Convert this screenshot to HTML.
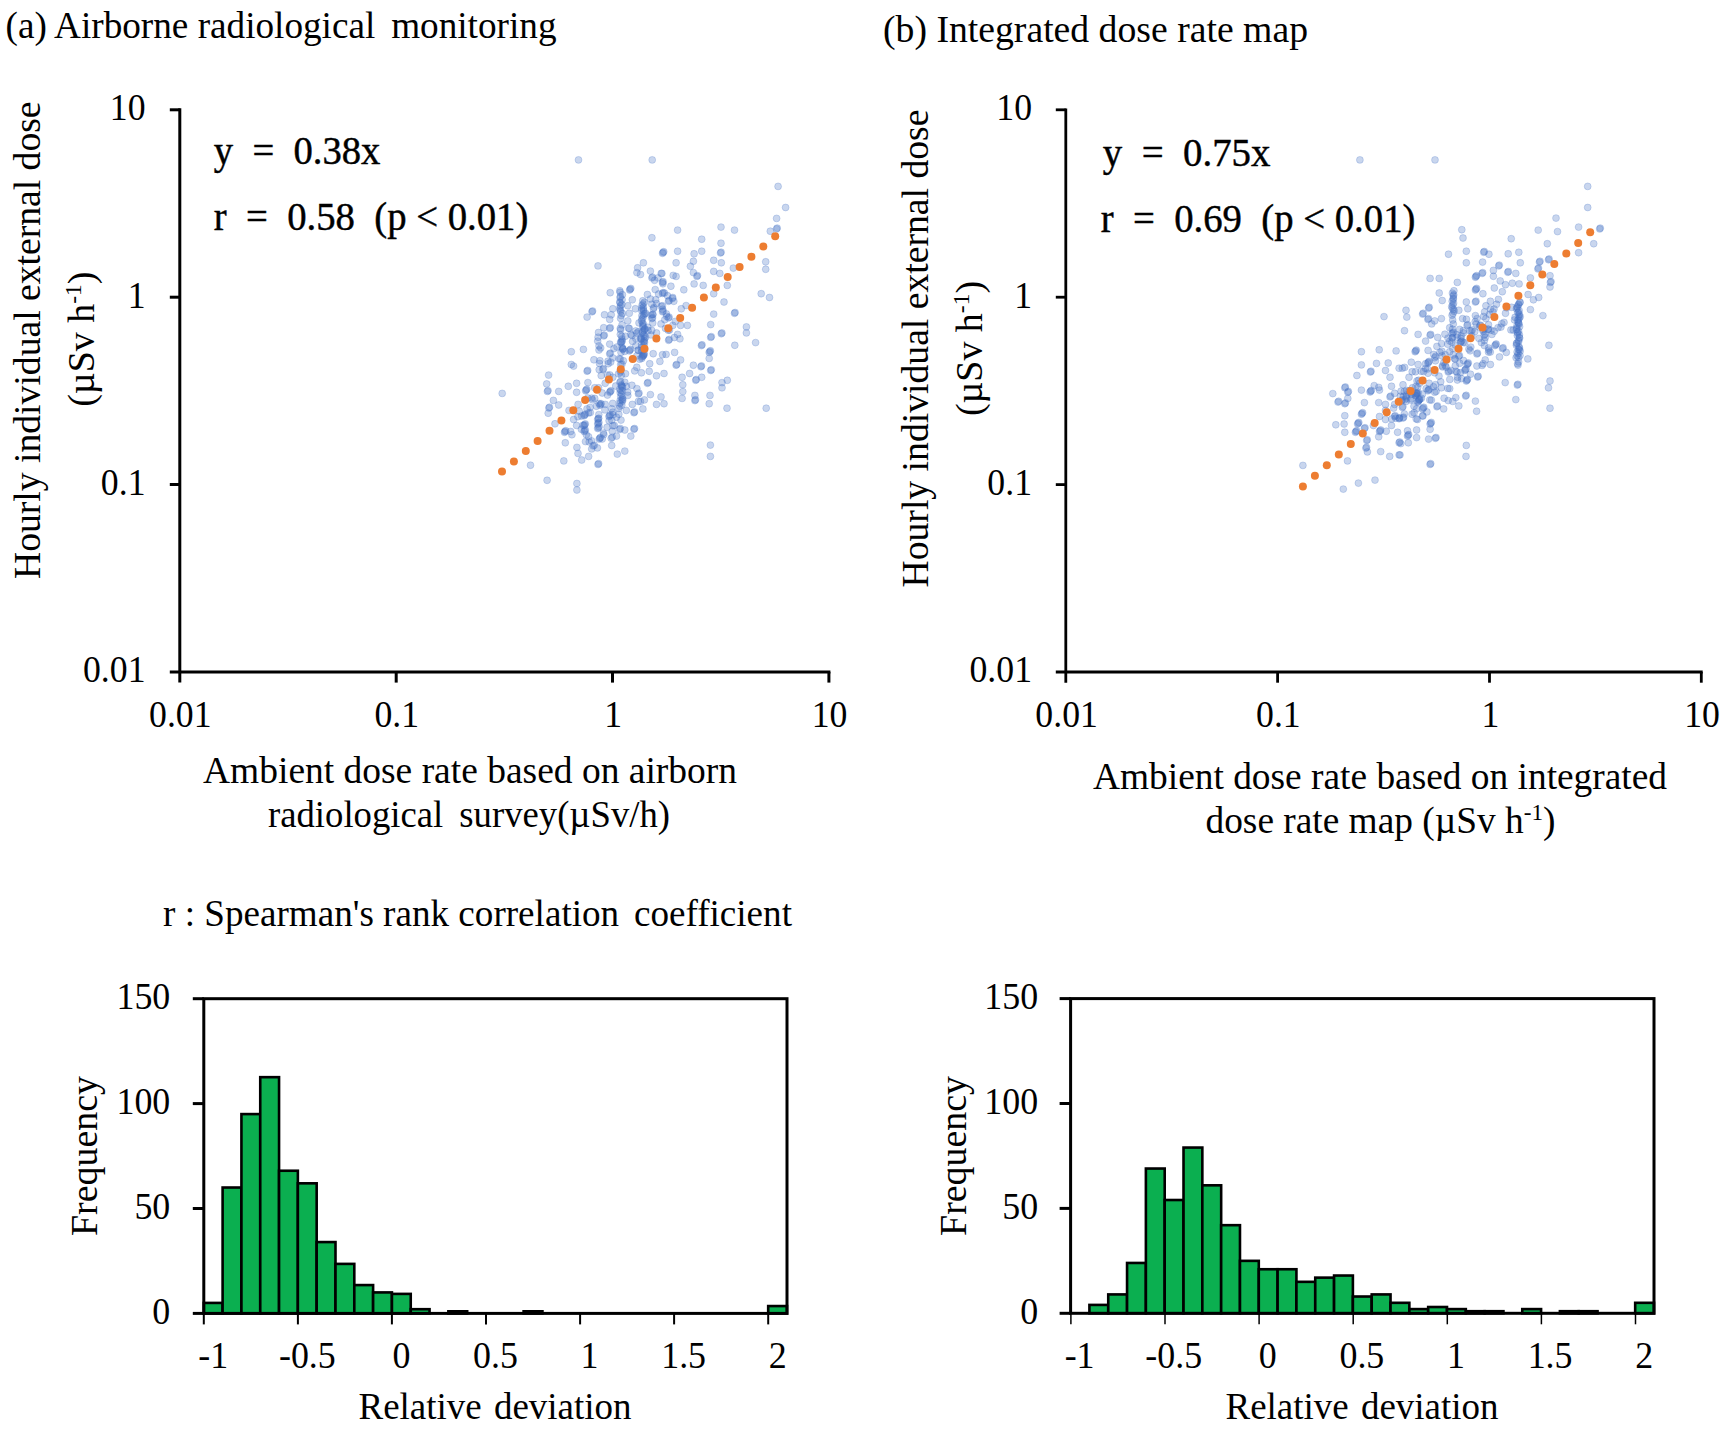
<!DOCTYPE html>
<html lang="en"><head><meta charset="utf-8"><title>Figure</title>
<style>html,body{margin:0;padding:0;background:#fff}svg{display:block}</style></head>
<body>
<svg width="1725" height="1440" viewBox="0 0 1725 1440" font-family='"Liberation Serif", serif' fill="#000">
<rect width="1725" height="1440" fill="#fff"/>
<text x="5.5" y="37.5" font-size="37" text-anchor="start" textLength="551" lengthAdjust="spacingAndGlyphs">(a) Airborne radiological <tspan dx="6.5">monitoring</tspan></text>
<text x="883" y="41.5" font-size="37" text-anchor="start" textLength="425" lengthAdjust="spacingAndGlyphs">(b) Integrated dose rate map</text>
<g fill="#4472C4" fill-opacity="0.29" stroke="#4472C4" stroke-opacity="0.24" stroke-width="1.0">
<circle cx="578.5" cy="159.9" r="3.45"/>
<circle cx="652.2" cy="159.9" r="3.45"/>
<circle cx="778.1" cy="186.4" r="3.45"/>
<circle cx="785.6" cy="207.5" r="3.45"/>
<circle cx="776.6" cy="218.4" r="3.45"/>
<circle cx="776.6" cy="228.9" r="3.45"/>
<circle cx="777.2" cy="228.1" r="3.45"/>
<circle cx="770.3" cy="231.2" r="3.45"/>
<circle cx="721.0" cy="227.1" r="3.45"/>
<circle cx="734.5" cy="230.1" r="3.45"/>
<circle cx="677.6" cy="230.1" r="3.45"/>
<circle cx="651.9" cy="237.7" r="3.45"/>
<circle cx="701.7" cy="239.2" r="3.45"/>
<circle cx="721.0" cy="243.2" r="3.45"/>
<circle cx="662.5" cy="253.3" r="3.45"/>
<circle cx="663.1" cy="252.5" r="3.45"/>
<circle cx="663.7" cy="251.7" r="3.45"/>
<circle cx="677.6" cy="251.2" r="3.45"/>
<circle cx="701.7" cy="251.2" r="3.45"/>
<circle cx="694.1" cy="253.8" r="3.45"/>
<circle cx="720.5" cy="253.0" r="3.45"/>
<circle cx="721.1" cy="252.2" r="3.45"/>
<circle cx="713.7" cy="260.3" r="3.45"/>
<circle cx="721.3" cy="262.8" r="3.45"/>
<circle cx="693.4" cy="261.3" r="3.45"/>
<circle cx="676.1" cy="262.8" r="3.45"/>
<circle cx="690.4" cy="266.3" r="3.45"/>
<circle cx="643.4" cy="262.8" r="3.45"/>
<circle cx="637.6" cy="267.8" r="3.45"/>
<circle cx="598.0" cy="265.9" r="3.45"/>
<circle cx="765.7" cy="261.8" r="3.45"/>
<circle cx="765.7" cy="269.3" r="3.45"/>
<circle cx="713.7" cy="271.4" r="3.45"/>
<circle cx="719.8" cy="273.4" r="3.45"/>
<circle cx="650.4" cy="271.1" r="3.45"/>
<circle cx="636.9" cy="272.6" r="3.45"/>
<circle cx="693.4" cy="272.6" r="3.45"/>
<circle cx="696.9" cy="276.4" r="3.45"/>
<circle cx="697.5" cy="275.6" r="3.45"/>
<circle cx="676.1" cy="276.4" r="3.45"/>
<circle cx="651.9" cy="277.9" r="3.45"/>
<circle cx="652.5" cy="277.1" r="3.45"/>
<circle cx="658.0" cy="277.9" r="3.45"/>
<circle cx="662.5" cy="282.4" r="3.45"/>
<circle cx="663.1" cy="281.6" r="3.45"/>
<circle cx="694.1" cy="283.9" r="3.45"/>
<circle cx="703.2" cy="285.4" r="3.45"/>
<circle cx="727.3" cy="285.4" r="3.45"/>
<circle cx="733.3" cy="268.1" r="3.45"/>
<circle cx="629.6" cy="290.0" r="3.45"/>
<circle cx="630.2" cy="289.2" r="3.45"/>
<circle cx="630.8" cy="288.4" r="3.45"/>
<circle cx="610.2" cy="292.7" r="3.45"/>
<circle cx="647.4" cy="294.5" r="3.45"/>
<circle cx="662.5" cy="293.4" r="3.45"/>
<circle cx="663.1" cy="292.6" r="3.45"/>
<circle cx="713.7" cy="293.7" r="3.45"/>
<circle cx="761.2" cy="293.7" r="3.45"/>
<circle cx="769.5" cy="297.5" r="3.45"/>
<circle cx="724.0" cy="302.0" r="3.45"/>
<circle cx="650.4" cy="299.0" r="3.45"/>
<circle cx="668.5" cy="301.3" r="3.45"/>
<circle cx="669.1" cy="300.5" r="3.45"/>
<circle cx="673.8" cy="301.3" r="3.45"/>
<circle cx="656.5" cy="303.5" r="3.45"/>
<circle cx="662.5" cy="305.8" r="3.45"/>
<circle cx="681.3" cy="308.8" r="3.45"/>
<circle cx="713.7" cy="314.1" r="3.45"/>
<circle cx="734.5" cy="313.3" r="3.45"/>
<circle cx="735.1" cy="312.5" r="3.45"/>
<circle cx="592.0" cy="311.8" r="3.45"/>
<circle cx="592.6" cy="311.0" r="3.45"/>
<circle cx="587.1" cy="317.1" r="3.45"/>
<circle cx="604.5" cy="314.8" r="3.45"/>
<circle cx="609.7" cy="319.4" r="3.45"/>
<circle cx="662.5" cy="311.8" r="3.45"/>
<circle cx="663.1" cy="311.0" r="3.45"/>
<circle cx="651.9" cy="318.6" r="3.45"/>
<circle cx="652.5" cy="317.8" r="3.45"/>
<circle cx="668.5" cy="317.9" r="3.45"/>
<circle cx="669.1" cy="317.1" r="3.45"/>
<circle cx="710.7" cy="324.6" r="3.45"/>
<circle cx="746.4" cy="326.9" r="3.45"/>
<circle cx="746.4" cy="332.9" r="3.45"/>
<circle cx="680.6" cy="325.4" r="3.45"/>
<circle cx="687.4" cy="325.4" r="3.45"/>
<circle cx="661.0" cy="323.9" r="3.45"/>
<circle cx="677.6" cy="334.4" r="3.45"/>
<circle cx="721.3" cy="333.7" r="3.45"/>
<circle cx="721.9" cy="332.9" r="3.45"/>
<circle cx="710.7" cy="337.4" r="3.45"/>
<circle cx="711.3" cy="336.6" r="3.45"/>
<circle cx="603.7" cy="327.7" r="3.45"/>
<circle cx="609.7" cy="328.4" r="3.45"/>
<circle cx="610.3" cy="327.6" r="3.45"/>
<circle cx="603.7" cy="335.9" r="3.45"/>
<circle cx="604.3" cy="335.1" r="3.45"/>
<circle cx="620.3" cy="328.4" r="3.45"/>
<circle cx="620.3" cy="334.4" r="3.45"/>
<circle cx="629.3" cy="328.4" r="3.45"/>
<circle cx="627.8" cy="305.8" r="3.45"/>
<circle cx="629.3" cy="313.3" r="3.45"/>
<circle cx="627.8" cy="320.9" r="3.45"/>
<circle cx="632.3" cy="299.8" r="3.45"/>
<circle cx="635.4" cy="308.8" r="3.45"/>
<circle cx="630.8" cy="334.4" r="3.45"/>
<circle cx="612.8" cy="308.8" r="3.45"/>
<circle cx="611.2" cy="314.8" r="3.45"/>
<circle cx="653.4" cy="308.8" r="3.45"/>
<circle cx="665.5" cy="328.4" r="3.45"/>
<circle cx="656.5" cy="332.9" r="3.45"/>
<circle cx="734.8" cy="345.3" r="3.45"/>
<circle cx="755.6" cy="342.6" r="3.45"/>
<circle cx="701.4" cy="345.6" r="3.45"/>
<circle cx="702.0" cy="344.8" r="3.45"/>
<circle cx="709.2" cy="352.4" r="3.45"/>
<circle cx="709.8" cy="351.6" r="3.45"/>
<circle cx="710.4" cy="350.8" r="3.45"/>
<circle cx="709.2" cy="358.4" r="3.45"/>
<circle cx="662.5" cy="354.7" r="3.45"/>
<circle cx="674.6" cy="352.4" r="3.45"/>
<circle cx="680.6" cy="359.9" r="3.45"/>
<circle cx="676.1" cy="365.2" r="3.45"/>
<circle cx="676.7" cy="364.4" r="3.45"/>
<circle cx="693.4" cy="365.2" r="3.45"/>
<circle cx="700.9" cy="366.7" r="3.45"/>
<circle cx="701.5" cy="365.9" r="3.45"/>
<circle cx="710.7" cy="370.5" r="3.45"/>
<circle cx="711.3" cy="369.7" r="3.45"/>
<circle cx="689.6" cy="373.5" r="3.45"/>
<circle cx="701.7" cy="377.3" r="3.45"/>
<circle cx="695.7" cy="380.3" r="3.45"/>
<circle cx="696.3" cy="379.5" r="3.45"/>
<circle cx="682.1" cy="377.3" r="3.45"/>
<circle cx="682.8" cy="384.8" r="3.45"/>
<circle cx="682.8" cy="391.6" r="3.45"/>
<circle cx="682.1" cy="398.4" r="3.45"/>
<circle cx="722.0" cy="382.6" r="3.45"/>
<circle cx="727.3" cy="380.3" r="3.45"/>
<circle cx="722.0" cy="387.8" r="3.45"/>
<circle cx="694.9" cy="395.4" r="3.45"/>
<circle cx="694.9" cy="400.6" r="3.45"/>
<circle cx="695.5" cy="399.8" r="3.45"/>
<circle cx="710.0" cy="395.4" r="3.45"/>
<circle cx="709.2" cy="403.7" r="3.45"/>
<circle cx="727.0" cy="408.2" r="3.45"/>
<circle cx="766.2" cy="408.2" r="3.45"/>
<circle cx="664.0" cy="373.5" r="3.45"/>
<circle cx="656.5" cy="375.8" r="3.45"/>
<circle cx="647.4" cy="383.3" r="3.45"/>
<circle cx="648.0" cy="382.5" r="3.45"/>
<circle cx="641.4" cy="372.8" r="3.45"/>
<circle cx="636.9" cy="388.6" r="3.45"/>
<circle cx="638.4" cy="393.9" r="3.45"/>
<circle cx="639.0" cy="393.1" r="3.45"/>
<circle cx="644.4" cy="399.9" r="3.45"/>
<circle cx="650.4" cy="394.6" r="3.45"/>
<circle cx="661.0" cy="396.9" r="3.45"/>
<circle cx="664.0" cy="403.7" r="3.45"/>
<circle cx="656.5" cy="404.4" r="3.45"/>
<circle cx="642.9" cy="408.9" r="3.45"/>
<circle cx="633.9" cy="412.7" r="3.45"/>
<circle cx="634.5" cy="411.9" r="3.45"/>
<circle cx="710.4" cy="445.1" r="3.45"/>
<circle cx="710.4" cy="456.4" r="3.45"/>
<circle cx="571.3" cy="351.7" r="3.45"/>
<circle cx="583.4" cy="349.4" r="3.45"/>
<circle cx="571.3" cy="364.5" r="3.45"/>
<circle cx="600.7" cy="347.9" r="3.45"/>
<circle cx="609.7" cy="344.1" r="3.45"/>
<circle cx="609.7" cy="353.9" r="3.45"/>
<circle cx="610.3" cy="353.1" r="3.45"/>
<circle cx="621.0" cy="342.6" r="3.45"/>
<circle cx="621.6" cy="341.8" r="3.45"/>
<circle cx="622.2" cy="341.0" r="3.45"/>
<circle cx="629.3" cy="350.9" r="3.45"/>
<circle cx="629.9" cy="350.1" r="3.45"/>
<circle cx="630.5" cy="349.3" r="3.45"/>
<circle cx="599.9" cy="360.7" r="3.45"/>
<circle cx="587.1" cy="371.2" r="3.45"/>
<circle cx="587.7" cy="370.4" r="3.45"/>
<circle cx="599.2" cy="369.7" r="3.45"/>
<circle cx="608.2" cy="363.7" r="3.45"/>
<circle cx="642.9" cy="356.2" r="3.45"/>
<circle cx="643.5" cy="355.4" r="3.45"/>
<circle cx="644.1" cy="354.6" r="3.45"/>
<circle cx="649.7" cy="363.7" r="3.45"/>
<circle cx="568.3" cy="386.3" r="3.45"/>
<circle cx="576.6" cy="383.3" r="3.45"/>
<circle cx="587.9" cy="382.6" r="3.45"/>
<circle cx="585.6" cy="390.8" r="3.45"/>
<circle cx="586.2" cy="390.0" r="3.45"/>
<circle cx="586.8" cy="389.2" r="3.45"/>
<circle cx="576.6" cy="392.3" r="3.45"/>
<circle cx="609.7" cy="392.3" r="3.45"/>
<circle cx="610.3" cy="391.5" r="3.45"/>
<circle cx="610.9" cy="390.7" r="3.45"/>
<circle cx="626.3" cy="386.3" r="3.45"/>
<circle cx="627.8" cy="395.4" r="3.45"/>
<circle cx="599.9" cy="405.2" r="3.45"/>
<circle cx="600.5" cy="404.4" r="3.45"/>
<circle cx="601.1" cy="403.6" r="3.45"/>
<circle cx="594.7" cy="398.4" r="3.45"/>
<circle cx="584.1" cy="415.7" r="3.45"/>
<circle cx="584.7" cy="414.9" r="3.45"/>
<circle cx="585.3" cy="414.1" r="3.45"/>
<circle cx="609.0" cy="416.5" r="3.45"/>
<circle cx="609.6" cy="415.7" r="3.45"/>
<circle cx="610.2" cy="414.9" r="3.45"/>
<circle cx="618.8" cy="414.2" r="3.45"/>
<circle cx="626.3" cy="410.4" r="3.45"/>
<circle cx="597.7" cy="419.5" r="3.45"/>
<circle cx="598.3" cy="418.7" r="3.45"/>
<circle cx="597.7" cy="424.0" r="3.45"/>
<circle cx="598.3" cy="423.2" r="3.45"/>
<circle cx="598.9" cy="422.4" r="3.45"/>
<circle cx="597.7" cy="428.5" r="3.45"/>
<circle cx="598.3" cy="427.7" r="3.45"/>
<circle cx="584.1" cy="425.5" r="3.45"/>
<circle cx="584.7" cy="424.7" r="3.45"/>
<circle cx="585.3" cy="423.9" r="3.45"/>
<circle cx="584.1" cy="431.5" r="3.45"/>
<circle cx="584.7" cy="430.7" r="3.45"/>
<circle cx="585.3" cy="429.9" r="3.45"/>
<circle cx="564.5" cy="432.3" r="3.45"/>
<circle cx="565.1" cy="431.5" r="3.45"/>
<circle cx="565.7" cy="430.7" r="3.45"/>
<circle cx="570.6" cy="431.5" r="3.45"/>
<circle cx="576.6" cy="425.5" r="3.45"/>
<circle cx="599.2" cy="439.1" r="3.45"/>
<circle cx="599.8" cy="438.3" r="3.45"/>
<circle cx="600.4" cy="437.5" r="3.45"/>
<circle cx="616.5" cy="436.1" r="3.45"/>
<circle cx="611.2" cy="438.3" r="3.45"/>
<circle cx="620.3" cy="428.5" r="3.45"/>
<circle cx="624.8" cy="430.0" r="3.45"/>
<circle cx="633.9" cy="429.3" r="3.45"/>
<circle cx="634.5" cy="428.5" r="3.45"/>
<circle cx="630.8" cy="436.1" r="3.45"/>
<circle cx="588.6" cy="436.8" r="3.45"/>
<circle cx="565.3" cy="442.8" r="3.45"/>
<circle cx="576.9" cy="447.4" r="3.45"/>
<circle cx="591.7" cy="448.9" r="3.45"/>
<circle cx="588.6" cy="456.4" r="3.45"/>
<circle cx="617.3" cy="454.1" r="3.45"/>
<circle cx="624.8" cy="451.1" r="3.45"/>
<circle cx="563.8" cy="460.9" r="3.45"/>
<circle cx="598.0" cy="464.4" r="3.45"/>
<circle cx="598.6" cy="463.6" r="3.45"/>
<circle cx="576.9" cy="483.5" r="3.45"/>
<circle cx="576.9" cy="490.0" r="3.45"/>
<circle cx="605.2" cy="383.3" r="3.45"/>
<circle cx="612.8" cy="377.3" r="3.45"/>
<circle cx="594.7" cy="387.8" r="3.45"/>
<circle cx="632.3" cy="404.4" r="3.45"/>
<circle cx="638.4" cy="401.4" r="3.45"/>
<circle cx="614.3" cy="425.5" r="3.45"/>
<circle cx="605.2" cy="404.4" r="3.45"/>
<circle cx="590.1" cy="407.4" r="3.45"/>
<circle cx="578.1" cy="404.4" r="3.45"/>
<circle cx="569.0" cy="410.4" r="3.45"/>
<circle cx="573.6" cy="419.5" r="3.45"/>
<circle cx="502.2" cy="393.4" r="3.45"/>
<circle cx="548.6" cy="375.1" r="3.45"/>
<circle cx="546.7" cy="383.9" r="3.45"/>
<circle cx="547.4" cy="391.4" r="3.45"/>
<circle cx="548.0" cy="390.6" r="3.45"/>
<circle cx="558.7" cy="391.4" r="3.45"/>
<circle cx="553.4" cy="400.4" r="3.45"/>
<circle cx="548.9" cy="408.0" r="3.45"/>
<circle cx="549.5" cy="407.2" r="3.45"/>
<circle cx="548.2" cy="413.2" r="3.45"/>
<circle cx="558.7" cy="405.0" r="3.45"/>
<circle cx="530.5" cy="465.2" r="3.45"/>
<circle cx="547.1" cy="480.3" r="3.45"/>
<circle cx="555.0" cy="423.8" r="3.45"/>
<circle cx="642.8" cy="300.8" r="3.45"/>
<circle cx="644.4" cy="302.3" r="3.45"/>
<circle cx="643.0" cy="304.0" r="3.45"/>
<circle cx="642.0" cy="305.4" r="3.45"/>
<circle cx="643.4" cy="307.3" r="3.45"/>
<circle cx="641.7" cy="308.3" r="3.45"/>
<circle cx="641.7" cy="310.5" r="3.45"/>
<circle cx="643.6" cy="311.1" r="3.45"/>
<circle cx="644.5" cy="313.8" r="3.45"/>
<circle cx="643.5" cy="314.9" r="3.45"/>
<circle cx="641.9" cy="315.7" r="3.45"/>
<circle cx="643.1" cy="317.3" r="3.45"/>
<circle cx="642.0" cy="319.1" r="3.45"/>
<circle cx="641.5" cy="320.9" r="3.45"/>
<circle cx="642.8" cy="322.9" r="3.45"/>
<circle cx="643.1" cy="324.2" r="3.45"/>
<circle cx="643.0" cy="325.8" r="3.45"/>
<circle cx="642.9" cy="326.9" r="3.45"/>
<circle cx="644.6" cy="329.3" r="3.45"/>
<circle cx="644.1" cy="330.5" r="3.45"/>
<circle cx="642.4" cy="331.5" r="3.45"/>
<circle cx="642.3" cy="332.9" r="3.45"/>
<circle cx="643.9" cy="334.8" r="3.45"/>
<circle cx="644.1" cy="336.4" r="3.45"/>
<circle cx="644.5" cy="338.5" r="3.45"/>
<circle cx="641.4" cy="339.2" r="3.45"/>
<circle cx="644.3" cy="341.1" r="3.45"/>
<circle cx="644.5" cy="342.6" r="3.45"/>
<circle cx="641.6" cy="344.4" r="3.45"/>
<circle cx="643.9" cy="345.5" r="3.45"/>
<circle cx="641.7" cy="347.2" r="3.45"/>
<circle cx="644.5" cy="349.2" r="3.45"/>
<circle cx="641.8" cy="350.2" r="3.45"/>
<circle cx="641.7" cy="351.5" r="3.45"/>
<circle cx="644.0" cy="353.2" r="3.45"/>
<circle cx="643.2" cy="355.1" r="3.45"/>
<circle cx="642.0" cy="356.9" r="3.45"/>
<circle cx="641.8" cy="358.4" r="3.45"/>
<circle cx="619.8" cy="290.8" r="3.45"/>
<circle cx="620.1" cy="292.3" r="3.45"/>
<circle cx="622.4" cy="294.7" r="3.45"/>
<circle cx="620.4" cy="296.5" r="3.45"/>
<circle cx="620.1" cy="297.7" r="3.45"/>
<circle cx="622.1" cy="299.7" r="3.45"/>
<circle cx="619.8" cy="301.9" r="3.45"/>
<circle cx="620.1" cy="302.7" r="3.45"/>
<circle cx="621.8" cy="304.5" r="3.45"/>
<circle cx="620.4" cy="306.0" r="3.45"/>
<circle cx="619.8" cy="308.3" r="3.45"/>
<circle cx="620.2" cy="310.1" r="3.45"/>
<circle cx="620.6" cy="311.6" r="3.45"/>
<circle cx="622.4" cy="313.4" r="3.45"/>
<circle cx="621.2" cy="315.6" r="3.45"/>
<circle cx="620.6" cy="318.4" r="3.45"/>
<circle cx="622.0" cy="324.9" r="3.45"/>
<circle cx="620.7" cy="329.8" r="3.45"/>
<circle cx="621.7" cy="336.4" r="3.45"/>
<circle cx="620.6" cy="342.0" r="3.45"/>
<circle cx="622.0" cy="347.3" r="3.45"/>
<circle cx="621.0" cy="352.4" r="3.45"/>
<circle cx="620.3" cy="359.1" r="3.45"/>
<circle cx="620.7" cy="364.4" r="3.45"/>
<circle cx="620.7" cy="370.2" r="3.45"/>
<circle cx="621.4" cy="375.3" r="3.45"/>
<circle cx="620.6" cy="381.4" r="3.45"/>
<circle cx="619.9" cy="382.5" r="3.45"/>
<circle cx="621.4" cy="384.9" r="3.45"/>
<circle cx="621.5" cy="385.9" r="3.45"/>
<circle cx="622.5" cy="387.5" r="3.45"/>
<circle cx="619.7" cy="389.2" r="3.45"/>
<circle cx="621.0" cy="390.6" r="3.45"/>
<circle cx="620.2" cy="392.7" r="3.45"/>
<circle cx="621.4" cy="394.1" r="3.45"/>
<circle cx="620.8" cy="396.6" r="3.45"/>
<circle cx="622.6" cy="398.0" r="3.45"/>
<circle cx="621.8" cy="399.6" r="3.45"/>
<circle cx="620.1" cy="400.6" r="3.45"/>
<circle cx="619.8" cy="403.3" r="3.45"/>
<circle cx="621.8" cy="405.1" r="3.45"/>
<circle cx="619.8" cy="406.3" r="3.45"/>
<circle cx="598.5" cy="332.5" r="3.45"/>
<circle cx="598.1" cy="337.2" r="3.45"/>
<circle cx="597.7" cy="341.1" r="3.45"/>
<circle cx="599.0" cy="345.9" r="3.45"/>
<circle cx="599.0" cy="350.0" r="3.45"/>
<circle cx="612.7" cy="403.4" r="3.45"/>
<circle cx="611.6" cy="408.8" r="3.45"/>
<circle cx="613.0" cy="414.7" r="3.45"/>
<circle cx="611.8" cy="420.3" r="3.45"/>
<circle cx="612.9" cy="425.8" r="3.45"/>
<circle cx="612.3" cy="431.3" r="3.45"/>
<circle cx="612.2" cy="437.3" r="3.45"/>
<circle cx="573.6" cy="366.1" r="3.45"/>
<circle cx="658.6" cy="294.0" r="3.45"/>
<circle cx="639.0" cy="322.9" r="3.45"/>
<circle cx="669.2" cy="339.4" r="3.45"/>
<circle cx="579.2" cy="411.2" r="3.45"/>
<circle cx="601.2" cy="375.6" r="3.45"/>
<circle cx="643.3" cy="342.0" r="3.45"/>
<circle cx="581.7" cy="460.0" r="3.45"/>
<circle cx="611.7" cy="445.5" r="3.45"/>
<circle cx="623.4" cy="360.8" r="3.45"/>
<circle cx="609.8" cy="374.9" r="3.45"/>
<circle cx="628.5" cy="328.2" r="3.45"/>
<circle cx="650.9" cy="334.9" r="3.45"/>
<circle cx="618.8" cy="408.3" r="3.45"/>
<circle cx="664.4" cy="293.0" r="3.45"/>
<circle cx="664.8" cy="319.7" r="3.45"/>
<circle cx="622.3" cy="386.5" r="3.45"/>
<circle cx="612.8" cy="357.9" r="3.45"/>
<circle cx="625.4" cy="336.2" r="3.45"/>
<circle cx="625.5" cy="373.7" r="3.45"/>
<circle cx="672.8" cy="325.4" r="3.45"/>
<circle cx="627.7" cy="392.1" r="3.45"/>
<circle cx="593.1" cy="445.8" r="3.45"/>
<circle cx="590.3" cy="412.6" r="3.45"/>
<circle cx="609.1" cy="420.7" r="3.45"/>
<circle cx="614.0" cy="348.6" r="3.45"/>
<circle cx="666.8" cy="316.4" r="3.45"/>
<circle cx="596.4" cy="406.2" r="3.45"/>
<circle cx="571.9" cy="434.7" r="3.45"/>
<circle cx="599.1" cy="426.8" r="3.45"/>
<circle cx="631.9" cy="335.5" r="3.45"/>
<circle cx="636.8" cy="355.9" r="3.45"/>
<circle cx="679.9" cy="338.8" r="3.45"/>
<circle cx="653.2" cy="353.7" r="3.45"/>
<circle cx="645.6" cy="337.2" r="3.45"/>
<circle cx="645.0" cy="329.0" r="3.45"/>
<circle cx="652.5" cy="314.5" r="3.45"/>
<circle cx="599.5" cy="363.4" r="3.45"/>
<circle cx="638.3" cy="331.7" r="3.45"/>
<circle cx="686.1" cy="305.6" r="3.45"/>
<circle cx="632.6" cy="341.5" r="3.45"/>
<circle cx="667.5" cy="295.7" r="3.45"/>
<circle cx="581.4" cy="429.3" r="3.45"/>
<circle cx="648.1" cy="330.5" r="3.45"/>
<circle cx="668.6" cy="340.3" r="3.45"/>
<circle cx="591.6" cy="440.9" r="3.45"/>
<circle cx="603.4" cy="433.1" r="3.45"/>
<circle cx="653.9" cy="307.5" r="3.45"/>
<circle cx="643.4" cy="309.6" r="3.45"/>
<circle cx="594.3" cy="445.3" r="3.45"/>
<circle cx="608.0" cy="361.2" r="3.45"/>
<circle cx="635.8" cy="338.6" r="3.45"/>
<circle cx="598.7" cy="418.3" r="3.45"/>
<circle cx="666.1" cy="354.4" r="3.45"/>
<circle cx="655.7" cy="299.8" r="3.45"/>
<circle cx="591.7" cy="398.1" r="3.45"/>
<circle cx="659.9" cy="361.4" r="3.45"/>
<circle cx="615.7" cy="386.0" r="3.45"/>
<circle cx="619.1" cy="358.7" r="3.45"/>
<circle cx="581.6" cy="416.0" r="3.45"/>
<circle cx="672.7" cy="297.5" r="3.45"/>
<circle cx="631.9" cy="385.3" r="3.45"/>
<circle cx="662.6" cy="309.3" r="3.45"/>
<circle cx="616.5" cy="417.2" r="3.45"/>
<circle cx="674.4" cy="337.5" r="3.45"/>
<circle cx="589.2" cy="441.9" r="3.45"/>
<circle cx="639.7" cy="359.2" r="3.45"/>
<circle cx="649.2" cy="371.3" r="3.45"/>
<circle cx="588.6" cy="412.9" r="3.45"/>
<circle cx="592.3" cy="399.8" r="3.45"/>
<circle cx="607.5" cy="395.1" r="3.45"/>
<circle cx="602.2" cy="439.0" r="3.45"/>
<circle cx="622.0" cy="339.1" r="3.45"/>
<circle cx="641.1" cy="337.9" r="3.45"/>
<circle cx="655.2" cy="289.6" r="3.45"/>
<circle cx="603.8" cy="434.6" r="3.45"/>
<circle cx="622.4" cy="401.2" r="3.45"/>
<circle cx="597.4" cy="447.9" r="3.45"/>
<circle cx="621.0" cy="420.1" r="3.45"/>
<circle cx="622.0" cy="364.1" r="3.45"/>
<circle cx="618.6" cy="373.8" r="3.45"/>
<circle cx="593.9" cy="359.8" r="3.45"/>
<circle cx="675.3" cy="321.4" r="3.45"/>
<circle cx="635.8" cy="330.9" r="3.45"/>
<circle cx="604.9" cy="409.9" r="3.45"/>
<circle cx="577.9" cy="416.7" r="3.45"/>
<circle cx="636.8" cy="367.3" r="3.45"/>
<circle cx="617.0" cy="347.0" r="3.45"/>
<circle cx="666.4" cy="313.9" r="3.45"/>
<circle cx="651.0" cy="315.1" r="3.45"/>
<circle cx="602.2" cy="393.0" r="3.45"/>
<circle cx="620.4" cy="372.0" r="3.45"/>
<circle cx="647.8" cy="327.3" r="3.45"/>
<circle cx="623.0" cy="348.6" r="3.45"/>
<circle cx="607.1" cy="427.3" r="3.45"/>
<circle cx="599.0" cy="403.4" r="3.45"/>
<circle cx="653.0" cy="314.6" r="3.45"/>
<circle cx="610.7" cy="362.1" r="3.45"/>
<circle cx="670.9" cy="286.2" r="3.45"/>
<circle cx="661.9" cy="273.4" r="3.45"/>
<circle cx="638.3" cy="350.3" r="3.45"/>
<circle cx="654.6" cy="280.3" r="3.45"/>
<circle cx="638.1" cy="350.2" r="3.45"/>
<circle cx="585.5" cy="441.6" r="3.45"/>
<circle cx="578.0" cy="453.4" r="3.45"/>
<circle cx="640.5" cy="401.5" r="3.45"/>
<circle cx="634.7" cy="370.9" r="3.45"/>
<circle cx="624.7" cy="351.4" r="3.45"/>
<circle cx="661.2" cy="273.4" r="3.45"/>
<circle cx="651.7" cy="330.4" r="3.45"/>
<circle cx="636.8" cy="333.1" r="3.45"/>
<circle cx="624.8" cy="382.3" r="3.45"/>
<circle cx="622.5" cy="390.9" r="3.45"/>
<circle cx="651.8" cy="304.2" r="3.45"/>
<circle cx="640.5" cy="274.5" r="3.45"/>
<circle cx="640.5" cy="338.9" r="3.45"/>
<circle cx="635.9" cy="345.6" r="3.45"/>
<circle cx="669.5" cy="330.1" r="3.45"/>
<circle cx="587.0" cy="408.9" r="3.45"/>
<circle cx="598.8" cy="414.6" r="3.45"/>
<circle cx="622.8" cy="349.4" r="3.45"/>
<circle cx="602.8" cy="369.5" r="3.45"/>
<circle cx="607.5" cy="375.1" r="3.45"/>
<circle cx="586.3" cy="434.7" r="3.45"/>
<circle cx="598.6" cy="387.8" r="3.45"/>
<circle cx="661.3" cy="306.3" r="3.45"/>
<circle cx="672.4" cy="298.5" r="3.45"/>
<circle cx="652.7" cy="323.0" r="3.45"/>
<circle cx="668.2" cy="330.2" r="3.45"/>
<circle cx="662.9" cy="283.8" r="3.45"/>
<circle cx="673.2" cy="275.4" r="3.45"/>
<circle cx="587.7" cy="398.0" r="3.45"/>
<circle cx="612.8" cy="412.2" r="3.45"/>
<circle cx="583.1" cy="425.3" r="3.45"/>
<circle cx="622.8" cy="399.8" r="3.45"/>
<circle cx="622.6" cy="348.8" r="3.45"/>
<circle cx="683.8" cy="289.8" r="3.45"/>
<circle cx="619.6" cy="429.5" r="3.45"/>
<circle cx="645.7" cy="313.4" r="3.45"/>
<circle cx="603.5" cy="368.7" r="3.45"/>
</g>
<g fill="#ED7D31">
<circle cx="502.0" cy="471.6" r="4.0"/>
<circle cx="513.9" cy="461.4" r="4.0"/>
<circle cx="525.8" cy="451.1" r="4.0"/>
<circle cx="537.6" cy="440.9" r="4.0"/>
<circle cx="549.5" cy="430.7" r="4.0"/>
<circle cx="561.4" cy="420.4" r="4.0"/>
<circle cx="573.3" cy="410.2" r="4.0"/>
<circle cx="585.1" cy="400.0" r="4.0"/>
<circle cx="597.0" cy="389.7" r="4.0"/>
<circle cx="608.9" cy="379.5" r="4.0"/>
<circle cx="620.8" cy="369.3" r="4.0"/>
<circle cx="632.7" cy="359.0" r="4.0"/>
<circle cx="644.5" cy="348.8" r="4.0"/>
<circle cx="656.4" cy="338.5" r="4.0"/>
<circle cx="668.3" cy="328.3" r="4.0"/>
<circle cx="680.2" cy="318.1" r="4.0"/>
<circle cx="692.1" cy="307.8" r="4.0"/>
<circle cx="703.9" cy="297.6" r="4.0"/>
<circle cx="715.8" cy="287.4" r="4.0"/>
<circle cx="727.7" cy="277.1" r="4.0"/>
<circle cx="739.6" cy="266.9" r="4.0"/>
<circle cx="751.4" cy="256.7" r="4.0"/>
<circle cx="763.3" cy="246.4" r="4.0"/>
<circle cx="775.2" cy="236.2" r="4.0"/>
</g>
<g stroke="#000" stroke-width="3" fill="none">
<path d="M179.8 108.3V682.6"/>
<path d="M169.8 671.9H830.4"/>
<path d="M169.8 109.8H179.8"/>
<path d="M169.8 297.2H179.8"/>
<path d="M169.8 484.5H179.8"/>
<path d="M396.2 671.9V682.6"/>
<path d="M612.5 671.9V682.6"/>
<path d="M828.9 671.9V682.6"/>
</g>
<g fill="#4472C4" fill-opacity="0.29" stroke="#4472C4" stroke-opacity="0.24" stroke-width="1.0">
<circle cx="1435.0" cy="159.9" r="3.45"/>
<circle cx="1587.7" cy="186.4" r="3.45"/>
<circle cx="1587.7" cy="207.5" r="3.45"/>
<circle cx="1556.0" cy="218.1" r="3.45"/>
<circle cx="1578.6" cy="227.1" r="3.45"/>
<circle cx="1599.7" cy="228.9" r="3.45"/>
<circle cx="1600.3" cy="228.1" r="3.45"/>
<circle cx="1557.5" cy="231.6" r="3.45"/>
<circle cx="1538.2" cy="230.1" r="3.45"/>
<circle cx="1511.2" cy="238.7" r="3.45"/>
<circle cx="1547.3" cy="243.7" r="3.45"/>
<circle cx="1593.7" cy="243.7" r="3.45"/>
<circle cx="1578.6" cy="252.7" r="3.45"/>
<circle cx="1461.8" cy="229.7" r="3.45"/>
<circle cx="1463.0" cy="238.0" r="3.45"/>
<circle cx="1448.5" cy="254.2" r="3.45"/>
<circle cx="1466.3" cy="251.2" r="3.45"/>
<circle cx="1483.7" cy="252.3" r="3.45"/>
<circle cx="1484.3" cy="251.5" r="3.45"/>
<circle cx="1488.9" cy="254.2" r="3.45"/>
<circle cx="1508.2" cy="253.8" r="3.45"/>
<circle cx="1518.8" cy="252.3" r="3.45"/>
<circle cx="1466.3" cy="262.8" r="3.45"/>
<circle cx="1482.6" cy="262.1" r="3.45"/>
<circle cx="1520.3" cy="262.8" r="3.45"/>
<circle cx="1498.7" cy="265.9" r="3.45"/>
<circle cx="1499.3" cy="265.1" r="3.45"/>
<circle cx="1493.4" cy="270.4" r="3.45"/>
<circle cx="1539.4" cy="262.1" r="3.45"/>
<circle cx="1540.0" cy="261.3" r="3.45"/>
<circle cx="1548.5" cy="259.8" r="3.45"/>
<circle cx="1549.1" cy="259.0" r="3.45"/>
<circle cx="1537.9" cy="268.9" r="3.45"/>
<circle cx="1538.5" cy="268.1" r="3.45"/>
<circle cx="1507.8" cy="272.3" r="3.45"/>
<circle cx="1508.4" cy="271.5" r="3.45"/>
<circle cx="1515.8" cy="273.4" r="3.45"/>
<circle cx="1482.1" cy="273.4" r="3.45"/>
<circle cx="1482.7" cy="272.6" r="3.45"/>
<circle cx="1475.4" cy="277.2" r="3.45"/>
<circle cx="1476.0" cy="276.4" r="3.45"/>
<circle cx="1476.6" cy="275.6" r="3.45"/>
<circle cx="1430.1" cy="278.4" r="3.45"/>
<circle cx="1439.2" cy="278.4" r="3.45"/>
<circle cx="1457.3" cy="282.4" r="3.45"/>
<circle cx="1500.2" cy="280.9" r="3.45"/>
<circle cx="1505.5" cy="284.7" r="3.45"/>
<circle cx="1512.3" cy="283.2" r="3.45"/>
<circle cx="1519.1" cy="283.9" r="3.45"/>
<circle cx="1530.4" cy="277.9" r="3.45"/>
<circle cx="1550.0" cy="275.7" r="3.45"/>
<circle cx="1550.4" cy="282.4" r="3.45"/>
<circle cx="1551.0" cy="281.6" r="3.45"/>
<circle cx="1550.0" cy="287.0" r="3.45"/>
<circle cx="1475.4" cy="290.0" r="3.45"/>
<circle cx="1476.0" cy="289.2" r="3.45"/>
<circle cx="1476.6" cy="288.4" r="3.45"/>
<circle cx="1482.9" cy="293.7" r="3.45"/>
<circle cx="1439.2" cy="293.0" r="3.45"/>
<circle cx="1442.2" cy="300.5" r="3.45"/>
<circle cx="1528.1" cy="294.5" r="3.45"/>
<circle cx="1538.7" cy="297.5" r="3.45"/>
<circle cx="1533.4" cy="299.8" r="3.45"/>
<circle cx="1466.3" cy="302.0" r="3.45"/>
<circle cx="1475.4" cy="302.0" r="3.45"/>
<circle cx="1476.0" cy="301.2" r="3.45"/>
<circle cx="1490.4" cy="301.3" r="3.45"/>
<circle cx="1485.9" cy="305.8" r="3.45"/>
<circle cx="1496.5" cy="304.3" r="3.45"/>
<circle cx="1530.4" cy="309.6" r="3.45"/>
<circle cx="1542.9" cy="315.6" r="3.45"/>
<circle cx="1406.0" cy="310.3" r="3.45"/>
<circle cx="1406.8" cy="317.1" r="3.45"/>
<circle cx="1428.6" cy="308.1" r="3.45"/>
<circle cx="1429.2" cy="307.3" r="3.45"/>
<circle cx="1422.6" cy="314.1" r="3.45"/>
<circle cx="1423.2" cy="313.3" r="3.45"/>
<circle cx="1427.9" cy="319.4" r="3.45"/>
<circle cx="1428.5" cy="318.6" r="3.45"/>
<circle cx="1434.7" cy="320.9" r="3.45"/>
<circle cx="1441.4" cy="318.6" r="3.45"/>
<circle cx="1431.7" cy="323.9" r="3.45"/>
<circle cx="1462.6" cy="318.6" r="3.45"/>
<circle cx="1467.1" cy="325.4" r="3.45"/>
<circle cx="1467.7" cy="324.6" r="3.45"/>
<circle cx="1475.4" cy="315.6" r="3.45"/>
<circle cx="1485.9" cy="318.6" r="3.45"/>
<circle cx="1458.8" cy="310.3" r="3.45"/>
<circle cx="1467.8" cy="308.8" r="3.45"/>
<circle cx="1404.5" cy="330.7" r="3.45"/>
<circle cx="1418.1" cy="334.4" r="3.45"/>
<circle cx="1430.1" cy="335.2" r="3.45"/>
<circle cx="1430.7" cy="334.4" r="3.45"/>
<circle cx="1437.7" cy="337.4" r="3.45"/>
<circle cx="1449.7" cy="327.7" r="3.45"/>
<circle cx="1452.8" cy="332.9" r="3.45"/>
<circle cx="1453.4" cy="332.1" r="3.45"/>
<circle cx="1457.3" cy="337.4" r="3.45"/>
<circle cx="1498.0" cy="327.7" r="3.45"/>
<circle cx="1491.9" cy="334.4" r="3.45"/>
<circle cx="1472.3" cy="329.9" r="3.45"/>
<circle cx="1505.5" cy="313.3" r="3.45"/>
<circle cx="1504.0" cy="322.4" r="3.45"/>
<circle cx="1484.4" cy="328.4" r="3.45"/>
<circle cx="1463.3" cy="332.9" r="3.45"/>
<circle cx="1548.9" cy="345.3" r="3.45"/>
<circle cx="1527.8" cy="358.9" r="3.45"/>
<circle cx="1517.6" cy="363.7" r="3.45"/>
<circle cx="1516.1" cy="357.7" r="3.45"/>
<circle cx="1495.0" cy="345.6" r="3.45"/>
<circle cx="1495.6" cy="344.8" r="3.45"/>
<circle cx="1496.2" cy="344.0" r="3.45"/>
<circle cx="1502.5" cy="348.6" r="3.45"/>
<circle cx="1503.1" cy="347.8" r="3.45"/>
<circle cx="1506.3" cy="352.4" r="3.45"/>
<circle cx="1484.4" cy="345.6" r="3.45"/>
<circle cx="1476.9" cy="353.9" r="3.45"/>
<circle cx="1477.5" cy="353.1" r="3.45"/>
<circle cx="1499.5" cy="356.9" r="3.45"/>
<circle cx="1485.2" cy="359.9" r="3.45"/>
<circle cx="1490.4" cy="364.5" r="3.45"/>
<circle cx="1476.9" cy="366.0" r="3.45"/>
<circle cx="1460.3" cy="342.6" r="3.45"/>
<circle cx="1460.9" cy="341.8" r="3.45"/>
<circle cx="1461.5" cy="341.0" r="3.45"/>
<circle cx="1458.8" cy="356.2" r="3.45"/>
<circle cx="1459.4" cy="355.4" r="3.45"/>
<circle cx="1449.7" cy="341.1" r="3.45"/>
<circle cx="1467.1" cy="364.5" r="3.45"/>
<circle cx="1467.7" cy="363.7" r="3.45"/>
<circle cx="1468.3" cy="362.9" r="3.45"/>
<circle cx="1464.8" cy="370.5" r="3.45"/>
<circle cx="1465.4" cy="369.7" r="3.45"/>
<circle cx="1466.0" cy="368.9" r="3.45"/>
<circle cx="1477.6" cy="377.0" r="3.45"/>
<circle cx="1478.2" cy="376.2" r="3.45"/>
<circle cx="1466.3" cy="381.0" r="3.45"/>
<circle cx="1466.9" cy="380.2" r="3.45"/>
<circle cx="1467.5" cy="379.4" r="3.45"/>
<circle cx="1460.3" cy="372.8" r="3.45"/>
<circle cx="1415.1" cy="351.7" r="3.45"/>
<circle cx="1415.7" cy="350.9" r="3.45"/>
<circle cx="1416.3" cy="350.1" r="3.45"/>
<circle cx="1436.9" cy="346.4" r="3.45"/>
<circle cx="1439.9" cy="352.4" r="3.45"/>
<circle cx="1425.6" cy="341.1" r="3.45"/>
<circle cx="1411.3" cy="362.2" r="3.45"/>
<circle cx="1418.1" cy="364.5" r="3.45"/>
<circle cx="1402.3" cy="368.2" r="3.45"/>
<circle cx="1427.9" cy="363.0" r="3.45"/>
<circle cx="1428.5" cy="362.2" r="3.45"/>
<circle cx="1429.1" cy="361.4" r="3.45"/>
<circle cx="1448.2" cy="372.0" r="3.45"/>
<circle cx="1448.8" cy="371.2" r="3.45"/>
<circle cx="1445.2" cy="365.2" r="3.45"/>
<circle cx="1440.7" cy="381.8" r="3.45"/>
<circle cx="1441.4" cy="387.8" r="3.45"/>
<circle cx="1449.7" cy="388.6" r="3.45"/>
<circle cx="1427.9" cy="390.8" r="3.45"/>
<circle cx="1428.5" cy="390.0" r="3.45"/>
<circle cx="1429.1" cy="389.2" r="3.45"/>
<circle cx="1415.1" cy="395.4" r="3.45"/>
<circle cx="1415.7" cy="394.6" r="3.45"/>
<circle cx="1416.3" cy="393.8" r="3.45"/>
<circle cx="1416.9" cy="393.0" r="3.45"/>
<circle cx="1418.1" cy="401.4" r="3.45"/>
<circle cx="1418.7" cy="400.6" r="3.45"/>
<circle cx="1419.3" cy="399.8" r="3.45"/>
<circle cx="1419.9" cy="399.0" r="3.45"/>
<circle cx="1422.6" cy="408.9" r="3.45"/>
<circle cx="1423.2" cy="408.1" r="3.45"/>
<circle cx="1423.8" cy="407.3" r="3.45"/>
<circle cx="1403.0" cy="384.8" r="3.45"/>
<circle cx="1402.3" cy="407.4" r="3.45"/>
<circle cx="1402.9" cy="406.6" r="3.45"/>
<circle cx="1465.6" cy="396.1" r="3.45"/>
<circle cx="1466.2" cy="395.3" r="3.45"/>
<circle cx="1455.8" cy="397.6" r="3.45"/>
<circle cx="1448.2" cy="400.6" r="3.45"/>
<circle cx="1452.8" cy="401.4" r="3.45"/>
<circle cx="1475.4" cy="401.1" r="3.45"/>
<circle cx="1458.8" cy="405.9" r="3.45"/>
<circle cx="1443.7" cy="408.9" r="3.45"/>
<circle cx="1436.9" cy="406.7" r="3.45"/>
<circle cx="1437.5" cy="405.9" r="3.45"/>
<circle cx="1476.6" cy="411.2" r="3.45"/>
<circle cx="1505.2" cy="382.6" r="3.45"/>
<circle cx="1517.3" cy="385.1" r="3.45"/>
<circle cx="1517.9" cy="384.3" r="3.45"/>
<circle cx="1515.8" cy="399.6" r="3.45"/>
<circle cx="1550.0" cy="381.0" r="3.45"/>
<circle cx="1548.5" cy="387.8" r="3.45"/>
<circle cx="1550.0" cy="408.2" r="3.45"/>
<circle cx="1403.0" cy="418.0" r="3.45"/>
<circle cx="1403.6" cy="417.2" r="3.45"/>
<circle cx="1412.1" cy="414.2" r="3.45"/>
<circle cx="1422.6" cy="415.7" r="3.45"/>
<circle cx="1430.1" cy="424.0" r="3.45"/>
<circle cx="1430.7" cy="423.2" r="3.45"/>
<circle cx="1431.3" cy="422.4" r="3.45"/>
<circle cx="1430.1" cy="429.3" r="3.45"/>
<circle cx="1435.4" cy="438.3" r="3.45"/>
<circle cx="1436.0" cy="437.5" r="3.45"/>
<circle cx="1428.6" cy="439.1" r="3.45"/>
<circle cx="1407.5" cy="430.8" r="3.45"/>
<circle cx="1416.6" cy="430.0" r="3.45"/>
<circle cx="1407.5" cy="436.1" r="3.45"/>
<circle cx="1408.1" cy="435.3" r="3.45"/>
<circle cx="1408.7" cy="434.5" r="3.45"/>
<circle cx="1416.6" cy="437.6" r="3.45"/>
<circle cx="1408.3" cy="442.8" r="3.45"/>
<circle cx="1400.8" cy="443.6" r="3.45"/>
<circle cx="1466.3" cy="445.4" r="3.45"/>
<circle cx="1466.0" cy="456.4" r="3.45"/>
<circle cx="1430.1" cy="464.4" r="3.45"/>
<circle cx="1430.7" cy="463.6" r="3.45"/>
<circle cx="1400.0" cy="454.9" r="3.45"/>
<circle cx="1488.9" cy="350.1" r="3.45"/>
<circle cx="1481.4" cy="342.6" r="3.45"/>
<circle cx="1470.8" cy="347.1" r="3.45"/>
<circle cx="1452.8" cy="348.6" r="3.45"/>
<circle cx="1445.2" cy="354.7" r="3.45"/>
<circle cx="1434.7" cy="357.7" r="3.45"/>
<circle cx="1421.1" cy="371.2" r="3.45"/>
<circle cx="1434.7" cy="372.8" r="3.45"/>
<circle cx="1409.0" cy="377.3" r="3.45"/>
<circle cx="1419.6" cy="383.3" r="3.45"/>
<circle cx="1434.7" cy="392.3" r="3.45"/>
<circle cx="1409.0" cy="390.8" r="3.45"/>
<circle cx="1361.4" cy="351.7" r="3.45"/>
<circle cx="1379.2" cy="349.8" r="3.45"/>
<circle cx="1396.1" cy="350.9" r="3.45"/>
<circle cx="1361.4" cy="364.9" r="3.45"/>
<circle cx="1376.5" cy="363.4" r="3.45"/>
<circle cx="1388.2" cy="363.0" r="3.45"/>
<circle cx="1370.4" cy="372.0" r="3.45"/>
<circle cx="1371.0" cy="371.2" r="3.45"/>
<circle cx="1356.9" cy="375.5" r="3.45"/>
<circle cx="1385.5" cy="370.5" r="3.45"/>
<circle cx="1390.0" cy="377.3" r="3.45"/>
<circle cx="1399.1" cy="368.2" r="3.45"/>
<circle cx="1332.8" cy="393.6" r="3.45"/>
<circle cx="1344.8" cy="387.8" r="3.45"/>
<circle cx="1345.4" cy="387.0" r="3.45"/>
<circle cx="1347.8" cy="392.3" r="3.45"/>
<circle cx="1348.4" cy="391.5" r="3.45"/>
<circle cx="1361.4" cy="390.1" r="3.45"/>
<circle cx="1370.1" cy="392.0" r="3.45"/>
<circle cx="1370.7" cy="391.2" r="3.45"/>
<circle cx="1371.3" cy="390.4" r="3.45"/>
<circle cx="1374.2" cy="385.6" r="3.45"/>
<circle cx="1379.5" cy="390.1" r="3.45"/>
<circle cx="1391.5" cy="386.3" r="3.45"/>
<circle cx="1338.0" cy="402.1" r="3.45"/>
<circle cx="1338.6" cy="401.3" r="3.45"/>
<circle cx="1344.8" cy="403.7" r="3.45"/>
<circle cx="1345.4" cy="402.9" r="3.45"/>
<circle cx="1347.8" cy="398.4" r="3.45"/>
<circle cx="1364.4" cy="402.6" r="3.45"/>
<circle cx="1378.7" cy="402.6" r="3.45"/>
<circle cx="1390.0" cy="396.9" r="3.45"/>
<circle cx="1390.6" cy="396.1" r="3.45"/>
<circle cx="1344.8" cy="415.7" r="3.45"/>
<circle cx="1361.4" cy="414.2" r="3.45"/>
<circle cx="1362.0" cy="413.4" r="3.45"/>
<circle cx="1362.6" cy="412.6" r="3.45"/>
<circle cx="1335.8" cy="424.8" r="3.45"/>
<circle cx="1344.1" cy="424.0" r="3.45"/>
<circle cx="1344.8" cy="432.3" r="3.45"/>
<circle cx="1357.6" cy="424.0" r="3.45"/>
<circle cx="1358.2" cy="423.2" r="3.45"/>
<circle cx="1358.8" cy="422.4" r="3.45"/>
<circle cx="1355.4" cy="432.3" r="3.45"/>
<circle cx="1356.0" cy="431.5" r="3.45"/>
<circle cx="1356.6" cy="430.7" r="3.45"/>
<circle cx="1364.4" cy="428.5" r="3.45"/>
<circle cx="1365.0" cy="427.7" r="3.45"/>
<circle cx="1379.5" cy="416.5" r="3.45"/>
<circle cx="1385.5" cy="419.5" r="3.45"/>
<circle cx="1394.6" cy="416.5" r="3.45"/>
<circle cx="1395.2" cy="415.7" r="3.45"/>
<circle cx="1399.1" cy="418.7" r="3.45"/>
<circle cx="1399.7" cy="417.9" r="3.45"/>
<circle cx="1379.5" cy="431.5" r="3.45"/>
<circle cx="1380.1" cy="430.7" r="3.45"/>
<circle cx="1380.7" cy="429.9" r="3.45"/>
<circle cx="1378.7" cy="436.8" r="3.45"/>
<circle cx="1366.7" cy="440.6" r="3.45"/>
<circle cx="1367.3" cy="439.8" r="3.45"/>
<circle cx="1365.9" cy="448.1" r="3.45"/>
<circle cx="1366.5" cy="447.3" r="3.45"/>
<circle cx="1367.4" cy="451.9" r="3.45"/>
<circle cx="1397.6" cy="432.3" r="3.45"/>
<circle cx="1399.1" cy="442.8" r="3.45"/>
<circle cx="1399.7" cy="442.0" r="3.45"/>
<circle cx="1380.7" cy="451.6" r="3.45"/>
<circle cx="1389.7" cy="456.4" r="3.45"/>
<circle cx="1399.1" cy="454.9" r="3.45"/>
<circle cx="1347.5" cy="460.9" r="3.45"/>
<circle cx="1302.9" cy="465.4" r="3.45"/>
<circle cx="1358.4" cy="483.1" r="3.45"/>
<circle cx="1375.0" cy="480.1" r="3.45"/>
<circle cx="1343.3" cy="489.1" r="3.45"/>
<circle cx="1385.5" cy="404.4" r="3.45"/>
<circle cx="1394.6" cy="404.4" r="3.45"/>
<circle cx="1385.5" cy="410.4" r="3.45"/>
<circle cx="1373.4" cy="425.5" r="3.45"/>
<circle cx="1391.5" cy="425.5" r="3.45"/>
<circle cx="1359.9" cy="159.9" r="3.45"/>
<circle cx="1384.0" cy="316.6" r="3.45"/>
<circle cx="1520.0" cy="302.2" r="3.45"/>
<circle cx="1519.9" cy="302.4" r="3.45"/>
<circle cx="1518.7" cy="304.1" r="3.45"/>
<circle cx="1518.4" cy="305.0" r="3.45"/>
<circle cx="1517.1" cy="306.7" r="3.45"/>
<circle cx="1517.2" cy="307.9" r="3.45"/>
<circle cx="1516.4" cy="308.8" r="3.45"/>
<circle cx="1519.1" cy="310.5" r="3.45"/>
<circle cx="1518.4" cy="312.1" r="3.45"/>
<circle cx="1517.7" cy="312.6" r="3.45"/>
<circle cx="1519.4" cy="314.5" r="3.45"/>
<circle cx="1518.9" cy="315.8" r="3.45"/>
<circle cx="1520.2" cy="316.7" r="3.45"/>
<circle cx="1519.3" cy="318.0" r="3.45"/>
<circle cx="1518.6" cy="319.6" r="3.45"/>
<circle cx="1517.6" cy="320.2" r="3.45"/>
<circle cx="1518.2" cy="322.3" r="3.45"/>
<circle cx="1518.7" cy="323.2" r="3.45"/>
<circle cx="1518.9" cy="324.2" r="3.45"/>
<circle cx="1517.0" cy="325.6" r="3.45"/>
<circle cx="1519.6" cy="326.7" r="3.45"/>
<circle cx="1516.8" cy="327.9" r="3.45"/>
<circle cx="1516.5" cy="329.4" r="3.45"/>
<circle cx="1518.6" cy="331.3" r="3.45"/>
<circle cx="1517.6" cy="332.0" r="3.45"/>
<circle cx="1517.5" cy="333.2" r="3.45"/>
<circle cx="1519.4" cy="334.8" r="3.45"/>
<circle cx="1517.3" cy="335.5" r="3.45"/>
<circle cx="1519.4" cy="337.5" r="3.45"/>
<circle cx="1519.6" cy="338.2" r="3.45"/>
<circle cx="1518.5" cy="340.3" r="3.45"/>
<circle cx="1518.7" cy="341.6" r="3.45"/>
<circle cx="1517.0" cy="342.9" r="3.45"/>
<circle cx="1516.5" cy="343.5" r="3.45"/>
<circle cx="1516.4" cy="345.3" r="3.45"/>
<circle cx="1519.0" cy="346.8" r="3.45"/>
<circle cx="1519.5" cy="348.0" r="3.45"/>
<circle cx="1518.5" cy="349.3" r="3.45"/>
<circle cx="1519.3" cy="349.8" r="3.45"/>
<circle cx="1520.2" cy="351.1" r="3.45"/>
<circle cx="1517.1" cy="352.0" r="3.45"/>
<circle cx="1518.2" cy="353.5" r="3.45"/>
<circle cx="1520.0" cy="355.6" r="3.45"/>
<circle cx="1517.2" cy="355.9" r="3.45"/>
<circle cx="1518.6" cy="357.4" r="3.45"/>
<circle cx="1518.6" cy="361.9" r="3.45"/>
<circle cx="1518.0" cy="365.1" r="3.45"/>
<circle cx="1453.9" cy="290.8" r="3.45"/>
<circle cx="1452.4" cy="293.1" r="3.45"/>
<circle cx="1453.7" cy="294.8" r="3.45"/>
<circle cx="1453.3" cy="296.0" r="3.45"/>
<circle cx="1453.3" cy="298.2" r="3.45"/>
<circle cx="1453.2" cy="299.2" r="3.45"/>
<circle cx="1452.2" cy="301.2" r="3.45"/>
<circle cx="1453.6" cy="303.1" r="3.45"/>
<circle cx="1452.9" cy="305.1" r="3.45"/>
<circle cx="1451.7" cy="306.6" r="3.45"/>
<circle cx="1452.3" cy="308.3" r="3.45"/>
<circle cx="1453.7" cy="309.6" r="3.45"/>
<circle cx="1454.1" cy="311.2" r="3.45"/>
<circle cx="1453.0" cy="313.5" r="3.45"/>
<circle cx="1452.1" cy="315.2" r="3.45"/>
<circle cx="1452.7" cy="320.1" r="3.45"/>
<circle cx="1453.3" cy="324.0" r="3.45"/>
<circle cx="1452.5" cy="329.3" r="3.45"/>
<circle cx="1451.9" cy="333.8" r="3.45"/>
<circle cx="1452.1" cy="338.0" r="3.45"/>
<circle cx="1406.1" cy="401.4" r="3.45"/>
<circle cx="1401.1" cy="391.2" r="3.45"/>
<circle cx="1460.9" cy="338.3" r="3.45"/>
<circle cx="1447.8" cy="388.4" r="3.45"/>
<circle cx="1415.9" cy="386.4" r="3.45"/>
<circle cx="1451.8" cy="342.1" r="3.45"/>
<circle cx="1459.7" cy="363.3" r="3.45"/>
<circle cx="1426.9" cy="411.9" r="3.45"/>
<circle cx="1426.2" cy="388.6" r="3.45"/>
<circle cx="1474.8" cy="331.7" r="3.45"/>
<circle cx="1422.5" cy="394.1" r="3.45"/>
<circle cx="1417.5" cy="419.5" r="3.45"/>
<circle cx="1457.1" cy="372.2" r="3.45"/>
<circle cx="1400.4" cy="396.2" r="3.45"/>
<circle cx="1488.5" cy="352.1" r="3.45"/>
<circle cx="1433.5" cy="386.8" r="3.45"/>
<circle cx="1402.0" cy="400.0" r="3.45"/>
<circle cx="1444.1" cy="398.2" r="3.45"/>
<circle cx="1404.3" cy="391.5" r="3.45"/>
<circle cx="1468.9" cy="349.1" r="3.45"/>
<circle cx="1492.9" cy="311.9" r="3.45"/>
<circle cx="1506.7" cy="307.8" r="3.45"/>
<circle cx="1393.7" cy="408.1" r="3.45"/>
<circle cx="1463.2" cy="342.4" r="3.45"/>
<circle cx="1459.6" cy="329.4" r="3.45"/>
<circle cx="1455.3" cy="344.9" r="3.45"/>
<circle cx="1422.9" cy="416.1" r="3.45"/>
<circle cx="1411.4" cy="398.8" r="3.45"/>
<circle cx="1447.7" cy="344.2" r="3.45"/>
<circle cx="1435.5" cy="384.7" r="3.45"/>
<circle cx="1483.1" cy="331.3" r="3.45"/>
<circle cx="1515.1" cy="317.3" r="3.45"/>
<circle cx="1399.1" cy="418.0" r="3.45"/>
<circle cx="1494.2" cy="331.2" r="3.45"/>
<circle cx="1475.2" cy="321.7" r="3.45"/>
<circle cx="1415.8" cy="395.6" r="3.45"/>
<circle cx="1416.4" cy="393.3" r="3.45"/>
<circle cx="1454.7" cy="358.5" r="3.45"/>
<circle cx="1425.5" cy="368.5" r="3.45"/>
<circle cx="1418.6" cy="380.3" r="3.45"/>
<circle cx="1490.5" cy="309.0" r="3.45"/>
<circle cx="1428.1" cy="350.4" r="3.45"/>
<circle cx="1498.4" cy="299.4" r="3.45"/>
<circle cx="1406.2" cy="396.6" r="3.45"/>
<circle cx="1439.0" cy="376.1" r="3.45"/>
<circle cx="1450.9" cy="370.4" r="3.45"/>
<circle cx="1469.8" cy="330.8" r="3.45"/>
<circle cx="1411.2" cy="394.2" r="3.45"/>
<circle cx="1449.7" cy="351.7" r="3.45"/>
<circle cx="1416.6" cy="408.8" r="3.45"/>
<circle cx="1406.7" cy="390.4" r="3.45"/>
<circle cx="1463.3" cy="330.7" r="3.45"/>
<circle cx="1455.9" cy="371.4" r="3.45"/>
<circle cx="1501.8" cy="323.7" r="3.45"/>
<circle cx="1435.7" cy="356.2" r="3.45"/>
<circle cx="1429.1" cy="383.3" r="3.45"/>
<circle cx="1466.4" cy="319.2" r="3.45"/>
<circle cx="1404.6" cy="367.4" r="3.45"/>
<circle cx="1482.1" cy="365.4" r="3.45"/>
<circle cx="1513.2" cy="330.0" r="3.45"/>
<circle cx="1416.2" cy="418.9" r="3.45"/>
<circle cx="1485.1" cy="334.1" r="3.45"/>
<circle cx="1449.8" cy="379.4" r="3.45"/>
<circle cx="1494.3" cy="288.0" r="3.45"/>
<circle cx="1415.5" cy="371.7" r="3.45"/>
<circle cx="1404.9" cy="399.7" r="3.45"/>
<circle cx="1429.8" cy="399.9" r="3.45"/>
<circle cx="1410.7" cy="400.0" r="3.45"/>
<circle cx="1484.6" cy="311.9" r="3.45"/>
<circle cx="1461.3" cy="335.9" r="3.45"/>
<circle cx="1412.5" cy="387.8" r="3.45"/>
<circle cx="1441.9" cy="351.3" r="3.45"/>
<circle cx="1442.6" cy="366.9" r="3.45"/>
<circle cx="1425.6" cy="363.8" r="3.45"/>
<circle cx="1490.3" cy="352.0" r="3.45"/>
<circle cx="1485.3" cy="337.5" r="3.45"/>
<circle cx="1470.1" cy="350.8" r="3.45"/>
<circle cx="1427.5" cy="369.0" r="3.45"/>
<circle cx="1442.0" cy="355.9" r="3.45"/>
<circle cx="1502.3" cy="291.7" r="3.45"/>
<circle cx="1412.2" cy="371.7" r="3.45"/>
<circle cx="1491.0" cy="330.3" r="3.45"/>
<circle cx="1401.5" cy="400.9" r="3.45"/>
<circle cx="1394.6" cy="393.3" r="3.45"/>
<circle cx="1484.4" cy="340.5" r="3.45"/>
<circle cx="1442.3" cy="365.9" r="3.45"/>
<circle cx="1406.8" cy="395.0" r="3.45"/>
<circle cx="1378.7" cy="387.4" r="3.45"/>
<circle cx="1480.0" cy="325.5" r="3.45"/>
<circle cx="1448.0" cy="338.1" r="3.45"/>
<circle cx="1461.5" cy="378.6" r="3.45"/>
<circle cx="1423.6" cy="371.5" r="3.45"/>
<circle cx="1478.9" cy="338.4" r="3.45"/>
<circle cx="1428.0" cy="373.2" r="3.45"/>
<circle cx="1435.5" cy="360.8" r="3.45"/>
<circle cx="1483.1" cy="363.7" r="3.45"/>
<circle cx="1514.5" cy="319.9" r="3.45"/>
<circle cx="1479.3" cy="327.1" r="3.45"/>
<circle cx="1477.1" cy="318.6" r="3.45"/>
<circle cx="1511.7" cy="307.3" r="3.45"/>
<circle cx="1500.9" cy="327.1" r="3.45"/>
<circle cx="1433.7" cy="354.5" r="3.45"/>
<circle cx="1456.9" cy="334.8" r="3.45"/>
<circle cx="1488.4" cy="329.2" r="3.45"/>
<circle cx="1455.1" cy="359.3" r="3.45"/>
<circle cx="1419.1" cy="399.7" r="3.45"/>
<circle cx="1436.1" cy="391.4" r="3.45"/>
<circle cx="1446.1" cy="367.2" r="3.45"/>
<circle cx="1471.8" cy="336.0" r="3.45"/>
<circle cx="1403.4" cy="396.4" r="3.45"/>
<circle cx="1488.5" cy="324.8" r="3.45"/>
<circle cx="1431.4" cy="400.1" r="3.45"/>
<circle cx="1470.5" cy="374.2" r="3.45"/>
<circle cx="1493.4" cy="276.3" r="3.45"/>
<circle cx="1510.9" cy="329.9" r="3.45"/>
<circle cx="1476.2" cy="324.0" r="3.45"/>
<circle cx="1441.5" cy="343.6" r="3.45"/>
<circle cx="1395.7" cy="418.2" r="3.45"/>
<circle cx="1484.2" cy="335.2" r="3.45"/>
<circle cx="1414.1" cy="412.8" r="3.45"/>
<circle cx="1488.0" cy="329.2" r="3.45"/>
<circle cx="1463.5" cy="360.5" r="3.45"/>
<circle cx="1464.7" cy="342.7" r="3.45"/>
<circle cx="1471.2" cy="330.9" r="3.45"/>
<circle cx="1494.0" cy="309.0" r="3.45"/>
<circle cx="1452.5" cy="337.7" r="3.45"/>
<circle cx="1483.6" cy="316.5" r="3.45"/>
<circle cx="1453.0" cy="355.0" r="3.45"/>
<circle cx="1444.9" cy="334.2" r="3.45"/>
<circle cx="1483.0" cy="329.7" r="3.45"/>
<circle cx="1489.5" cy="314.4" r="3.45"/>
<circle cx="1406.7" cy="398.3" r="3.45"/>
<circle cx="1417.7" cy="402.3" r="3.45"/>
<circle cx="1480.6" cy="325.2" r="3.45"/>
<circle cx="1457.6" cy="377.2" r="3.45"/>
<circle cx="1443.8" cy="362.6" r="3.45"/>
<circle cx="1417.3" cy="393.9" r="3.45"/>
<circle cx="1455.3" cy="365.8" r="3.45"/>
<circle cx="1417.6" cy="387.4" r="3.45"/>
<circle cx="1417.0" cy="380.9" r="3.45"/>
<circle cx="1421.4" cy="398.3" r="3.45"/>
<circle cx="1418.2" cy="392.6" r="3.45"/>
<circle cx="1457.4" cy="380.0" r="3.45"/>
<circle cx="1386.3" cy="431.2" r="3.45"/>
<circle cx="1391.8" cy="418.9" r="3.45"/>
<circle cx="1446.0" cy="360.0" r="3.45"/>
<circle cx="1488.5" cy="348.0" r="3.45"/>
<circle cx="1414.0" cy="406.2" r="3.45"/>
<circle cx="1404.3" cy="413.9" r="3.45"/>
<circle cx="1410.4" cy="392.1" r="3.45"/>
</g>
<g fill="#ED7D31">
<circle cx="1302.9" cy="486.4" r="4.0"/>
<circle cx="1314.9" cy="475.8" r="4.0"/>
<circle cx="1326.8" cy="465.2" r="4.0"/>
<circle cx="1338.8" cy="454.6" r="4.0"/>
<circle cx="1350.8" cy="444.0" r="4.0"/>
<circle cx="1362.8" cy="433.5" r="4.0"/>
<circle cx="1374.7" cy="422.9" r="4.0"/>
<circle cx="1386.7" cy="412.3" r="4.0"/>
<circle cx="1398.7" cy="401.7" r="4.0"/>
<circle cx="1410.6" cy="391.1" r="4.0"/>
<circle cx="1422.6" cy="380.5" r="4.0"/>
<circle cx="1434.6" cy="369.9" r="4.0"/>
<circle cx="1446.6" cy="359.4" r="4.0"/>
<circle cx="1458.5" cy="348.8" r="4.0"/>
<circle cx="1470.5" cy="338.2" r="4.0"/>
<circle cx="1482.5" cy="327.6" r="4.0"/>
<circle cx="1494.4" cy="317.0" r="4.0"/>
<circle cx="1506.4" cy="306.4" r="4.0"/>
<circle cx="1518.4" cy="295.8" r="4.0"/>
<circle cx="1530.3" cy="285.2" r="4.0"/>
<circle cx="1542.3" cy="274.6" r="4.0"/>
<circle cx="1554.3" cy="264.1" r="4.0"/>
<circle cx="1566.3" cy="253.5" r="4.0"/>
<circle cx="1578.2" cy="242.9" r="4.0"/>
<circle cx="1590.2" cy="232.3" r="4.0"/>
</g>
<g stroke="#000" stroke-width="2.8" fill="none">
<path d="M1065.8 108.39999999999999V682.7"/>
<path d="M1055.8 672.0H1702.7"/>
<path d="M1055.8 109.8H1065.8"/>
<path d="M1055.8 297.2H1065.8"/>
<path d="M1055.8 484.6H1065.8"/>
<path d="M1277.6 672.0V682.7"/>
<path d="M1489.5 672.0V682.7"/>
<path d="M1701.3 672.0V682.7"/>
</g>
<text x="145.5" y="120.3" font-size="37" text-anchor="end" textLength="35.7" lengthAdjust="spacingAndGlyphs">10</text>
<text x="1032" y="120.3" font-size="37" text-anchor="end" textLength="35.7" lengthAdjust="spacingAndGlyphs">10</text>
<text x="145.5" y="307.7" font-size="37" text-anchor="end" textLength="17.85" lengthAdjust="spacingAndGlyphs">1</text>
<text x="1032" y="307.7" font-size="37" text-anchor="end" textLength="17.85" lengthAdjust="spacingAndGlyphs">1</text>
<text x="145.5" y="495.0" font-size="37" text-anchor="end" textLength="44.63" lengthAdjust="spacingAndGlyphs">0.1</text>
<text x="1032" y="495.0" font-size="37" text-anchor="end" textLength="44.63" lengthAdjust="spacingAndGlyphs">0.1</text>
<text x="145.5" y="682.4" font-size="37" text-anchor="end" textLength="62.48" lengthAdjust="spacingAndGlyphs">0.01</text>
<text x="1032" y="682.4" font-size="37" text-anchor="end" textLength="62.48" lengthAdjust="spacingAndGlyphs">0.01</text>
<text x="180.3" y="727" font-size="37" text-anchor="middle" textLength="62.48" lengthAdjust="spacingAndGlyphs">0.01</text>
<text x="396.7" y="727" font-size="37" text-anchor="middle" textLength="44.63" lengthAdjust="spacingAndGlyphs">0.1</text>
<text x="613.1" y="727" font-size="37" text-anchor="middle" textLength="17.85" lengthAdjust="spacingAndGlyphs">1</text>
<text x="829.5" y="727" font-size="37" text-anchor="middle" textLength="35.7" lengthAdjust="spacingAndGlyphs">10</text>
<text x="1066.6" y="727" font-size="37" text-anchor="middle" textLength="62.48" lengthAdjust="spacingAndGlyphs">0.01</text>
<text x="1278.3999999999999" y="727" font-size="37" text-anchor="middle" textLength="44.63" lengthAdjust="spacingAndGlyphs">0.1</text>
<text x="1490.3" y="727" font-size="37" text-anchor="middle" textLength="17.85" lengthAdjust="spacingAndGlyphs">1</text>
<text x="1702.1" y="727" font-size="37" text-anchor="middle" textLength="35.7" lengthAdjust="spacingAndGlyphs">10</text>
<text x="40.0" y="340.2" font-size="37" text-anchor="middle" transform="rotate(-90 40.0 340.2)" textLength="477.5" lengthAdjust="spacingAndGlyphs">Hourly individual external dose</text>
<text x="94" y="339.2" font-size="37" text-anchor="middle" transform="rotate(-90 94 339.2)" textLength="135.2" lengthAdjust="spacingAndGlyphs">(µSv h<tspan font-size="23" dy="-13">-1</tspan><tspan dy="13">)</tspan></text>
<text x="927.8" y="348.5" font-size="37" text-anchor="middle" transform="rotate(-90 927.8 348.5)" textLength="478" lengthAdjust="spacingAndGlyphs">Hourly individual external dose</text>
<text x="981.9" y="348.5" font-size="37" text-anchor="middle" transform="rotate(-90 981.9 348.5)" textLength="135.2" lengthAdjust="spacingAndGlyphs">(µSv h<tspan font-size="23" dy="-13">-1</tspan><tspan dy="13">)</tspan></text>
<text x="213.8" y="164.4" font-size="40" text-anchor="start" textLength="166.6" lengthAdjust="spacingAndGlyphs" stroke="#000" stroke-width="0.45">y&#160; =&#160; 0.38x</text>
<text x="213.8" y="229.5" font-size="40" text-anchor="start" textLength="314.5" lengthAdjust="spacingAndGlyphs" stroke="#000" stroke-width="0.45">r&#160; =&#160; 0.58&#160; (p &lt; 0.01)</text>
<text x="1102.8" y="165.6" font-size="40" text-anchor="start" textLength="167.7" lengthAdjust="spacingAndGlyphs" stroke="#000" stroke-width="0.45">y&#160; =&#160; 0.75x</text>
<text x="1100.8" y="231.5" font-size="40" text-anchor="start" textLength="314.6" lengthAdjust="spacingAndGlyphs" stroke="#000" stroke-width="0.45">r&#160; =&#160; 0.69&#160; (p &lt; 0.01)</text>
<text x="470" y="783" font-size="37" text-anchor="middle" textLength="534" lengthAdjust="spacingAndGlyphs">Ambient dose rate based on airborn</text>
<text x="469" y="827" font-size="37" text-anchor="middle" textLength="402" lengthAdjust="spacingAndGlyphs">radiological <tspan dx="7">survey(µSv/h)</tspan></text>
<text x="1380" y="789" font-size="37" text-anchor="middle" textLength="574" lengthAdjust="spacingAndGlyphs">Ambient dose rate based on integrated</text>
<text x="1380.5" y="833" font-size="37" text-anchor="middle" textLength="350" lengthAdjust="spacingAndGlyphs">dose rate map (µSv h<tspan font-size="23" dy="-13">-1</tspan><tspan dy="13">)</tspan></text>
<text x="163" y="926" font-size="37" text-anchor="start" textLength="629" lengthAdjust="spacingAndGlyphs">r : Spearman's rank correlation <tspan dx="5.5">coefficient</tspan></text>
<g fill="#0BAF50" stroke="#000" stroke-width="2.6">
<rect x="203.80" y="1302.91" width="18.81" height="10.49"/>
<rect x="222.61" y="1187.52" width="18.81" height="125.88"/>
<rect x="241.43" y="1114.09" width="18.81" height="199.31"/>
<rect x="260.24" y="1077.17" width="18.81" height="236.23"/>
<rect x="279.05" y="1170.74" width="18.81" height="142.66"/>
<rect x="297.86" y="1183.32" width="18.81" height="130.08"/>
<rect x="316.68" y="1242.07" width="18.81" height="71.33"/>
<rect x="335.49" y="1263.89" width="18.81" height="49.51"/>
<rect x="354.30" y="1285.08" width="18.81" height="28.32"/>
<rect x="373.12" y="1292.42" width="18.81" height="20.98"/>
<rect x="391.93" y="1293.89" width="18.81" height="19.51"/>
<rect x="410.74" y="1309.20" width="18.81" height="4.20"/>
<rect x="448.37" y="1311.30" width="18.81" height="2.10"/>
<rect x="523.62" y="1311.30" width="18.81" height="2.10"/>
<rect x="768.19" y="1306.06" width="18.81" height="7.34"/>
</g>
<g stroke="#000" stroke-width="3" fill="none">
<rect x="203.8" y="998.7" width="583.2" height="314.70000000000005"/>
<path d="M192.8 1313.4H203.8"/>
<path d="M192.8 1208.5H203.8"/>
<path d="M192.8 1103.6H203.8"/>
<path d="M192.8 998.7H203.8"/>
</g>
<g stroke="#000" stroke-width="2.0" fill="none">
<path d="M203.8 1313.4V1324.4"/>
<path d="M297.9 1313.4V1324.4"/>
<path d="M391.9 1313.4V1324.4"/>
<path d="M486.0 1313.4V1324.4"/>
<path d="M580.1 1313.4V1324.4"/>
<path d="M674.1 1313.4V1324.4"/>
<path d="M768.2 1313.4V1324.4"/>
</g>
<text x="170.3" y="1323.9" font-size="37" text-anchor="end" textLength="17.95" lengthAdjust="spacingAndGlyphs">0</text>
<text x="170.3" y="1219.0" font-size="37" text-anchor="end" textLength="35.89" lengthAdjust="spacingAndGlyphs">50</text>
<text x="170.3" y="1114.1000000000001" font-size="37" text-anchor="end" textLength="53.84" lengthAdjust="spacingAndGlyphs">100</text>
<text x="170.3" y="1009.2" font-size="37" text-anchor="end" textLength="53.84" lengthAdjust="spacingAndGlyphs">150</text>
<text x="213.3" y="1367.5" font-size="37" text-anchor="middle" textLength="29.9" lengthAdjust="spacingAndGlyphs">-1</text>
<text x="307.36451612903227" y="1367.5" font-size="37" text-anchor="middle" textLength="56.81" lengthAdjust="spacingAndGlyphs">-0.5</text>
<text x="401.4290322580646" y="1367.5" font-size="37" text-anchor="middle" textLength="17.95" lengthAdjust="spacingAndGlyphs">0</text>
<text x="495.49354838709684" y="1367.5" font-size="37" text-anchor="middle" textLength="44.86" lengthAdjust="spacingAndGlyphs">0.5</text>
<text x="589.5580645161291" y="1367.5" font-size="37" text-anchor="middle" textLength="17.95" lengthAdjust="spacingAndGlyphs">1</text>
<text x="683.6225806451614" y="1367.5" font-size="37" text-anchor="middle" textLength="44.86" lengthAdjust="spacingAndGlyphs">1.5</text>
<text x="777.6870967741936" y="1367.5" font-size="37" text-anchor="middle" textLength="17.95" lengthAdjust="spacingAndGlyphs">2</text>
<text x="495" y="1419" font-size="37" text-anchor="middle" textLength="273" lengthAdjust="spacingAndGlyphs" word-spacing="3">Relative deviation</text>
<text x="97.5" y="1156.0500000000002" font-size="37" text-anchor="middle" transform="rotate(-90 97.5 1156.0500000000002)" textLength="160" lengthAdjust="spacingAndGlyphs">Frequency</text>
<g fill="#0BAF50" stroke="#000" stroke-width="2.6">
<rect x="1089.42" y="1304.91" width="18.82" height="8.39"/>
<rect x="1108.24" y="1294.42" width="18.82" height="18.88"/>
<rect x="1127.06" y="1262.95" width="18.82" height="50.35"/>
<rect x="1145.88" y="1168.54" width="18.82" height="144.76"/>
<rect x="1164.70" y="1200.01" width="18.82" height="113.29"/>
<rect x="1183.52" y="1147.56" width="18.82" height="165.74"/>
<rect x="1202.34" y="1185.32" width="18.82" height="127.98"/>
<rect x="1221.15" y="1225.18" width="18.82" height="88.12"/>
<rect x="1239.97" y="1260.85" width="18.82" height="52.45"/>
<rect x="1258.79" y="1269.24" width="18.82" height="44.06"/>
<rect x="1277.61" y="1269.24" width="18.82" height="44.06"/>
<rect x="1296.43" y="1281.83" width="18.82" height="31.47"/>
<rect x="1315.25" y="1277.63" width="18.82" height="35.67"/>
<rect x="1334.07" y="1275.54" width="18.82" height="37.76"/>
<rect x="1352.89" y="1296.52" width="18.82" height="16.78"/>
<rect x="1371.71" y="1294.42" width="18.82" height="18.88"/>
<rect x="1390.53" y="1302.81" width="18.82" height="10.49"/>
<rect x="1409.35" y="1309.10" width="18.82" height="4.20"/>
<rect x="1428.17" y="1307.01" width="18.82" height="6.29"/>
<rect x="1446.99" y="1309.10" width="18.82" height="4.20"/>
<rect x="1465.81" y="1311.20" width="18.82" height="2.10"/>
<rect x="1484.63" y="1311.20" width="18.82" height="2.10"/>
<rect x="1522.26" y="1309.10" width="18.82" height="4.20"/>
<rect x="1559.90" y="1311.20" width="18.82" height="2.10"/>
<rect x="1578.72" y="1311.20" width="18.82" height="2.10"/>
<rect x="1635.18" y="1302.81" width="18.82" height="10.49"/>
</g>
<g stroke="#000" stroke-width="3" fill="none">
<rect x="1070.6" y="998.6" width="583.4000000000001" height="314.69999999999993"/>
<path d="M1059.6 1313.3H1070.6"/>
<path d="M1059.6 1208.4H1070.6"/>
<path d="M1059.6 1103.5H1070.6"/>
<path d="M1059.6 998.6H1070.6"/>
</g>
<g stroke="#000" stroke-width="1.5" fill="none">
<path d="M1070.9 1313.3V1324.3"/>
<path d="M1165.0 1313.3V1324.3"/>
<path d="M1259.1 1313.3V1324.3"/>
<path d="M1353.2 1313.3V1324.3"/>
<path d="M1447.3 1313.3V1324.3"/>
<path d="M1541.4 1313.3V1324.3"/>
<path d="M1635.5 1313.3V1324.3"/>
</g>
<text x="1038.1" y="1323.8" font-size="37" text-anchor="end" textLength="17.95" lengthAdjust="spacingAndGlyphs">0</text>
<text x="1038.1" y="1218.9" font-size="37" text-anchor="end" textLength="35.89" lengthAdjust="spacingAndGlyphs">50</text>
<text x="1038.1" y="1114.0" font-size="37" text-anchor="end" textLength="53.84" lengthAdjust="spacingAndGlyphs">100</text>
<text x="1038.1" y="1009.1" font-size="37" text-anchor="end" textLength="53.84" lengthAdjust="spacingAndGlyphs">150</text>
<text x="1079.6" y="1367.5" font-size="37" text-anchor="middle" textLength="29.9" lengthAdjust="spacingAndGlyphs">-1</text>
<text x="1173.6967741935482" y="1367.5" font-size="37" text-anchor="middle" textLength="56.81" lengthAdjust="spacingAndGlyphs">-0.5</text>
<text x="1267.7935483870967" y="1367.5" font-size="37" text-anchor="middle" textLength="17.95" lengthAdjust="spacingAndGlyphs">0</text>
<text x="1361.8903225806453" y="1367.5" font-size="37" text-anchor="middle" textLength="44.86" lengthAdjust="spacingAndGlyphs">0.5</text>
<text x="1455.9870967741936" y="1367.5" font-size="37" text-anchor="middle" textLength="17.95" lengthAdjust="spacingAndGlyphs">1</text>
<text x="1550.0838709677419" y="1367.5" font-size="37" text-anchor="middle" textLength="44.86" lengthAdjust="spacingAndGlyphs">1.5</text>
<text x="1644.1806451612904" y="1367.5" font-size="37" text-anchor="middle" textLength="17.95" lengthAdjust="spacingAndGlyphs">2</text>
<text x="1362" y="1419" font-size="37" text-anchor="middle" textLength="273" lengthAdjust="spacingAndGlyphs" word-spacing="3">Relative deviation</text>
<text x="966" y="1155.95" font-size="37" text-anchor="middle" transform="rotate(-90 966 1155.95)" textLength="160" lengthAdjust="spacingAndGlyphs">Frequency</text>
</svg>
</body></html>
